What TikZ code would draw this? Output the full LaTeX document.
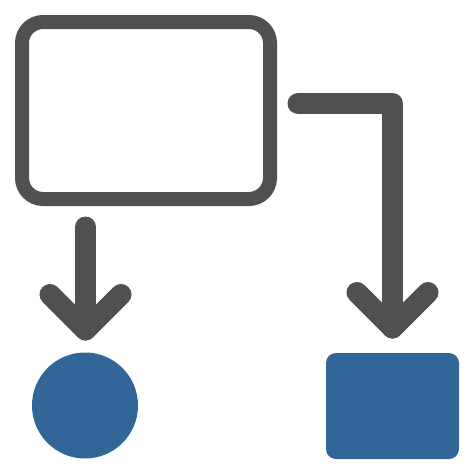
\documentclass[tikz,border=0pt]{standalone}
\usetikzlibrary{positioning}
\definecolor{icongray}{HTML}{505050}
\definecolor{iconblue}{HTML}{326699}
\tikzset{
  boxshape/.style={draw=icongray, line width=14pt, rounded corners=21pt, minimum width=248pt, minimum height=177pt, inner sep=0pt, fill=white},
  bluecircle/.style={circle, fill=iconblue, minimum size=106pt, inner sep=0pt},
  bluesquare/.style={fill=iconblue, rounded corners=10pt, minimum width=133pt, minimum height=106pt, inner sep=0pt},
  flowline/.style={draw=icongray, line width=21pt, line cap=round, line join=round},
}
\begin{document}
\begin{tikzpicture}[x=1pt,y=-1pt]
\useasboundingbox (0,0) rectangle (474,474);
\node[boxshape] (box) at (146,110.5) {};
\node[bluecircle] (circ) at (85,405.5) {};
\node[bluesquare] (sq) at (392.5,406) {};
% left arrow
\coordinate (la0) at (85.5,227);
\coordinate (lat) at (85.5,330);
\coordinate (lal) at (50,294.5);
\coordinate (lar) at (121,294.5);
\draw[flowline] (la0) -- (lat);
\draw[flowline] (lal) -- (lat) -- (lar);
% right arrow
\coordinate (ra0) at (298,103.5);
\coordinate (rac) at (392.5,103.5);
\coordinate (rat) at (392.5,328);
\coordinate (ral) at (357,292.5);
\coordinate (rar) at (428,292.5);
\draw[flowline] (ra0) -- (rac) -- (rat);
\draw[flowline] (ral) -- (rat) -- (rar);
\end{tikzpicture}
\end{document}
